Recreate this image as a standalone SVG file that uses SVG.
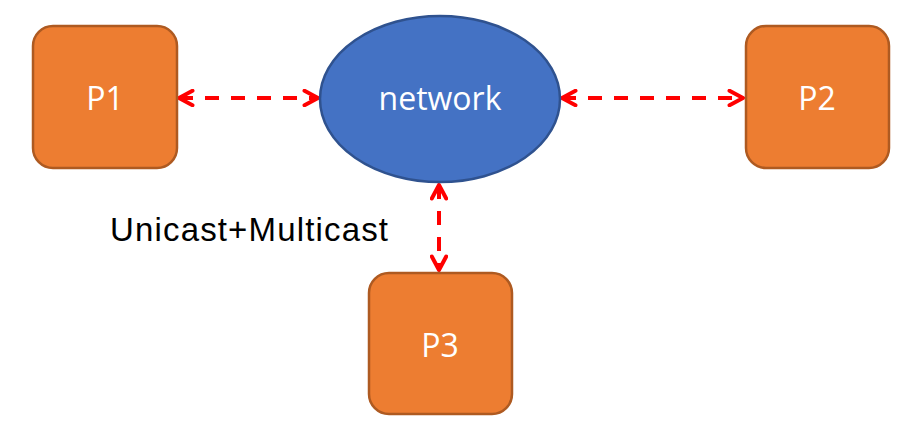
<svg xmlns="http://www.w3.org/2000/svg" width="914" height="423" viewBox="0 0 914 423">
<style>
.box{fill:#ED7D31;stroke:#AE5A21;stroke-width:2.5}
.lbl{font-family:"Open Sans","Noto Sans",sans-serif;font-size:32px;fill:#fff;text-anchor:middle}
.con{stroke:#FF0000;stroke-width:4;stroke-dasharray:14,12;fill:none}
</style>
<defs>
<marker id="ah" viewBox="0 0 10 10" refX="9" refY="5" markerWidth="4.5" markerHeight="4.5" orient="auto-start-reverse" markerUnits="strokeWidth">
<path d="M1.5,1 L9,5 L1.5,9" fill="none" stroke="#FF0000" stroke-width="2.2" stroke-linecap="round" stroke-linejoin="round"/>
</marker>
</defs>
<rect width="914" height="423" fill="#fff"/>
<g id="connectors">
<line class="con" x1="179" y1="98" x2="318" y2="98" marker-start="url(#ah)" marker-end="url(#ah)"/>
<line class="con" x1="562" y1="98" x2="743" y2="98" marker-start="url(#ah)" marker-end="url(#ah)"/>
<line class="con" x1="439" y1="185" x2="439" y2="270" marker-start="url(#ah)" marker-end="url(#ah)"/>
</g>
<g id="P1"><rect class="box" x="33" y="26" width="144" height="142" rx="20"/><text class="lbl" x="105" y="110">P1</text></g>
<g id="network"><ellipse cx="440" cy="99" rx="120" ry="83" fill="#4472C4" stroke="#2F528F" stroke-width="2.5"/><text class="lbl" x="440" y="110">network</text></g>
<g id="P2"><rect class="box" x="746" y="26" width="143" height="142" rx="20"/><text class="lbl" x="817" y="110">P2</text></g>
<g id="P3"><rect class="box" x="369" y="273" width="143" height="141" rx="20"/><text class="lbl" x="440" y="357">P3</text></g>
<text x="110" y="241" font-family="Liberation Sans,Arial,sans-serif" font-size="33" fill="#000" textLength="278">Unicast+Multicast</text>
</svg>
